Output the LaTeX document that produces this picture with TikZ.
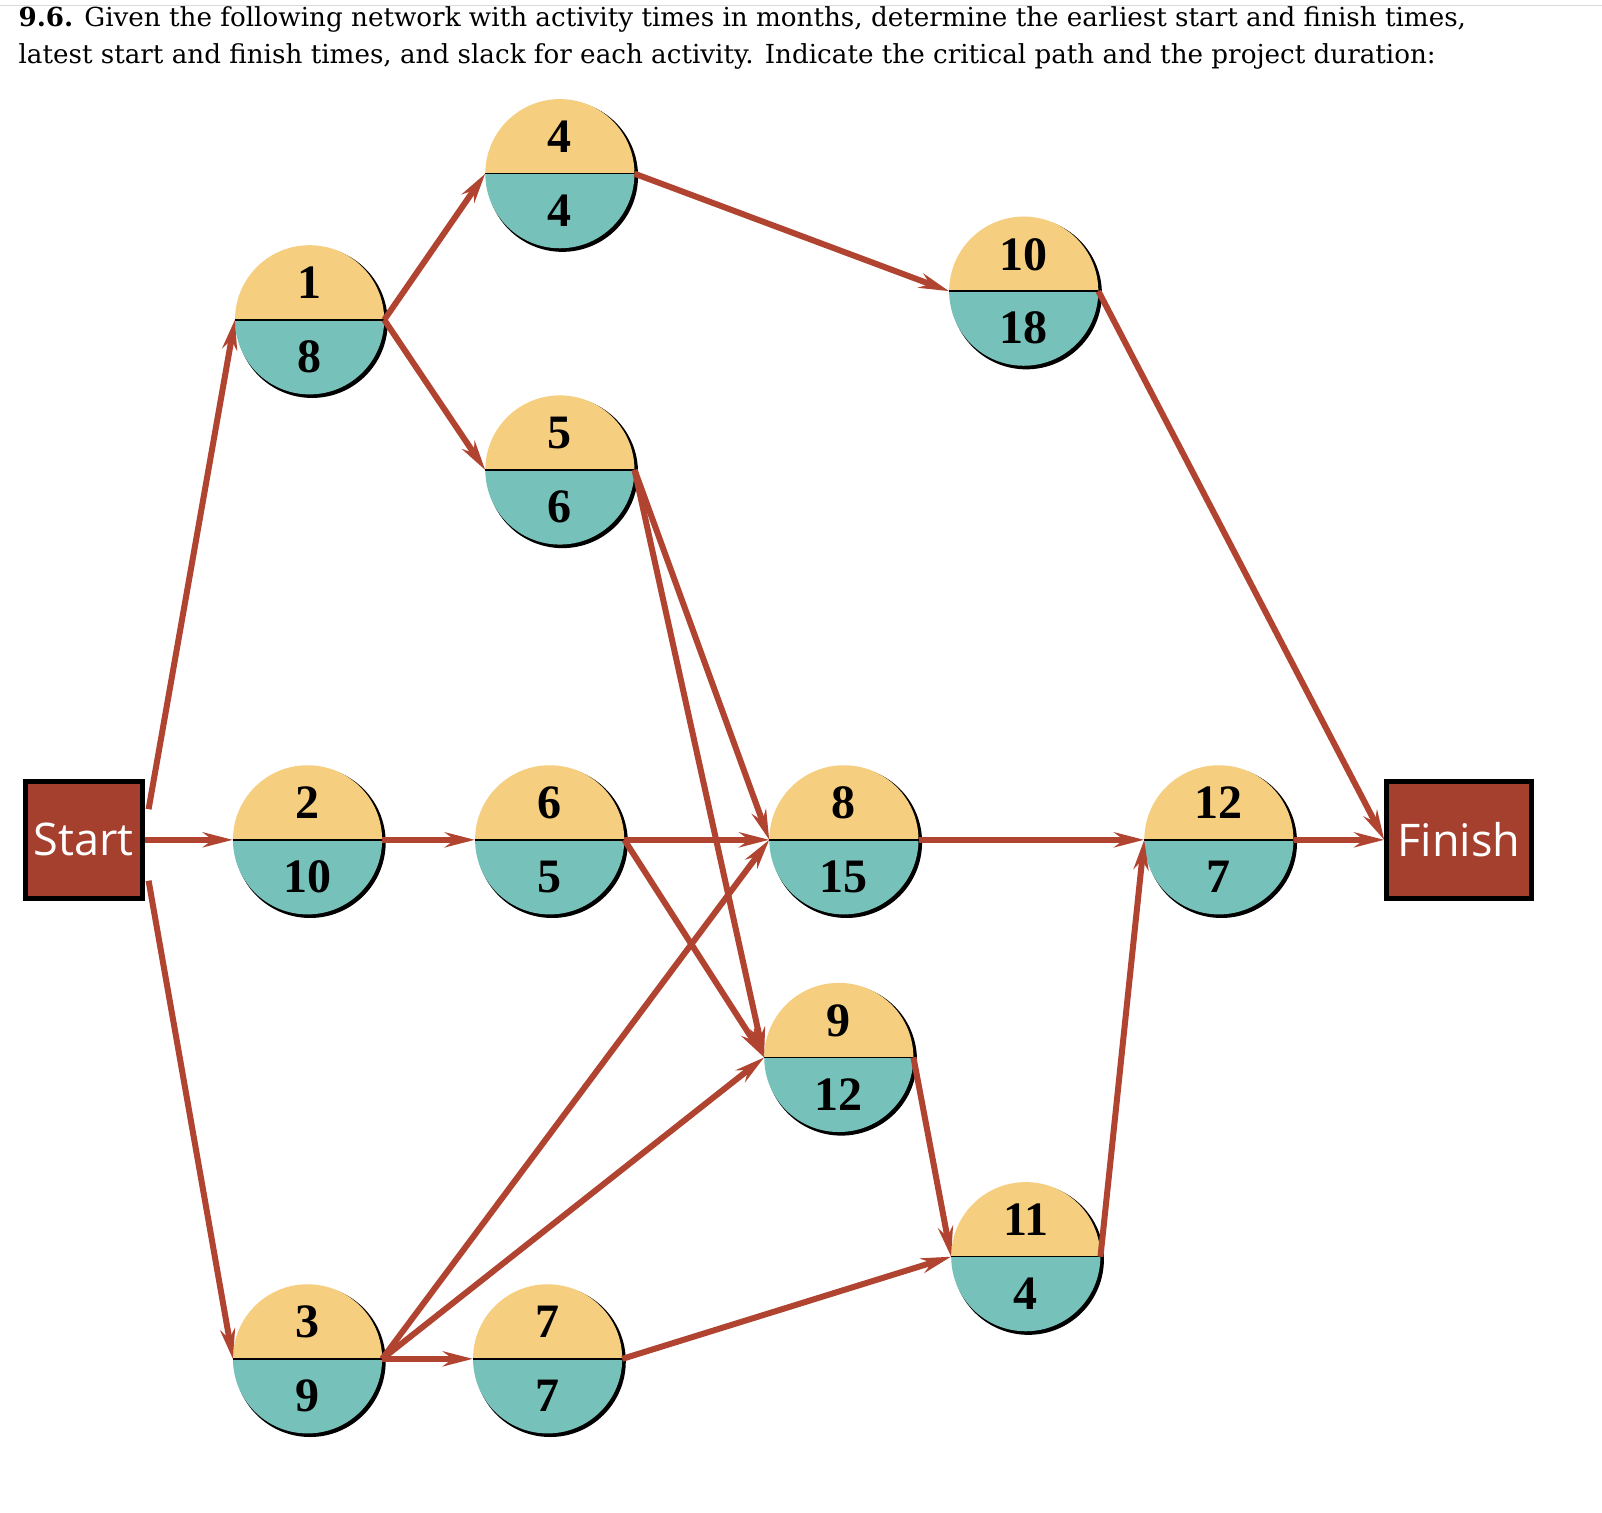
\documentclass[tikz,border=0pt]{standalone}
\usepackage{fontspec}
\setmainfont{Liberation Serif}
\newfontfamily\titlefont{DejaVu Serif}
\newfontfamily\boxfont{Open Sans}
\usetikzlibrary{arrows.meta,calc}
\definecolor{arr}{RGB}{176,68,48}
\definecolor{ylw}{RGB}{246,206,128}
\definecolor{tea}{RGB}{118,193,186}
\definecolor{bx}{RGB}{165,64,46}
\tikzset{
 act/.style={circle,minimum size=149pt,inner sep=0pt},
 endbox/.style={draw=black,line width=4.5pt,fill=bx,text=white,minimum width=117pt,minimum height=117pt,inner sep=0pt,font=\boxfont\fontsize{45}{45}\selectfont},
 conn/.style={draw=arr,line width=6pt,-{Stealth[length=30pt,width=15pt]}},
 num/.style={font=\bfseries\fontsize{48}{48}\selectfont}
}
\newcommand{\actnode}[4]{%
 \fill[black] (#2) ++(2.5,-2.5) circle (74);
 \fill[ylw] (#2) ++(-73,0) arc (180:0:73) -- cycle;
 \fill[tea] (#2) ++(-73,0) arc (180:360:73) -- cycle;
 \draw[black,line width=1.5pt] (#2) ++(-73,0) -- ++(146,0);
 \node[act] (#1) at (#2) {};
 \node[num] at ($(#2)+(0,36)$) {#3};
 \node[num] at ($(#2)+(0,-36)$) {#4};
}
\begin{document}
\begin{tikzpicture}[x=1.022pt,y=1.022pt]
\useasboundingbox (0,0) rectangle (1568,-1480);
\fill[white] (0,0) rectangle (1568,-1480);
\draw[gray!30,line width=1pt] (0,-5) -- (1568,-5);
\node[anchor=north west,align=left,font=\titlefont\fontsize{26.2}{37}\selectfont,inner sep=0pt] (title) at (18,-6)
 {\textbf{9.6.} Given the following network with activity times in months, determine the earliest start and finish times,\\
 latest start and finish times, and slack for each activity. Indicate the critical path and the project duration:};
\actnode{n1}{303,-313}{1}{8}
\actnode{n2}{301,-822}{2}{10}
\actnode{n3}{301,-1330}{3}{9}
\actnode{n4}{548,-170}{4}{4}
\actnode{n5}{548,-460}{5}{6}
\actnode{n6}{538,-822}{6}{5}
\actnode{n7}{536,-1330}{7}{7}
\actnode{n8}{826,-822}{8}{15}
\actnode{n9}{821,-1035}{9}{12}
\actnode{n10}{1002,-285}{10}{18}
\actnode{n11}{1004,-1230}{11}{4}
\actnode{n12}{1193,-822}{12}{7}
\node[endbox] (start) at (82,-822) {Start};
\node[endbox,minimum width=145pt] (finish) at (1428,-822) {Finish};
\draw[conn] ($(start.east)+(4,30)$) -- (n1.west);
\draw[conn] (start.east) -- (n2.west);
\draw[conn] ($(start.east)+(4,-40)$) -- (n3.west);
\draw[conn] (n1.east) -- (n4.west);
\draw[conn] (n1.east) -- (n5.west);
\draw[conn] (n4.east) -- (n10.west);
\draw[conn] (n10.east) -- (finish.west);
\draw[conn] (n2.east) -- (n6.west);
\draw[conn] (n5.east) -- (n8.west);
\draw[conn] (n5.east) -- (n9.west);
\draw[conn] (n6.east) -- (n8.west);
\draw[conn] (n6.east) -- (n9.west);
\draw[conn] (n3.east) -- (n8.west);
\draw[conn] (n3.east) -- (n9.west);
\draw[conn] (n3.east) -- (n7.west);
\draw[conn] (n7.east) -- (n11.west);
\draw[conn] (n9.east) -- (n11.west);
\draw[conn] (n11.east) -- (n12.west);
\draw[conn] (n8.east) -- (n12.west);
\draw[conn] (n12.east) -- (finish.west);
\end{tikzpicture}
\end{document}
